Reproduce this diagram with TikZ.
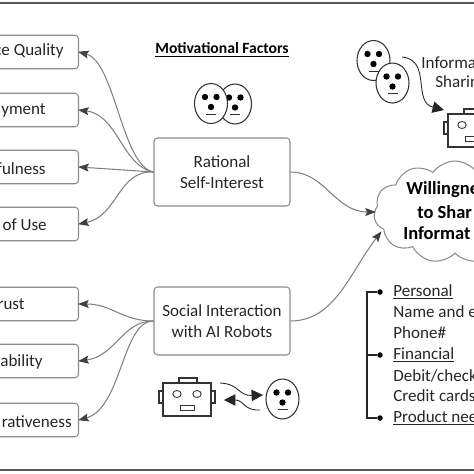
\documentclass[tikz,border=0pt]{standalone}
\usepackage{fontspec}
\setmainfont{Carlito}
\usepackage{xcolor}
\usetikzlibrary{arrows.meta, shapes.geometric, shapes.symbols}

\colorlet{inkgray}{black!85}

\tikzset{
  face/.pic = {
    \node[ellipse, draw=black!80, fill=white, line width=0.6pt, inner sep=0pt,
          minimum width=0.66cm, minimum height=0.8cm] (-body) at (0,0) {};
    \fill[black] (-6,-6.5) circle (3.2);
    \fill[black] (5.5,-6.5) circle (3.2);
    \fill[black] (0,3.5) circle (3.2);
    \draw[black!80, line width=0.5pt] (-5,10.5) -- (5,10.5);
  },
  robot/.pic = {
    \draw[black!80, line width=0.6pt] (-8,-16.5) -- (-8,-21.5) -- (10,-21.5) -- (10,-16.5);
    \draw[black!80, line width=0.6pt] (-24,-8.5) rectangle (-28,3.5);
    \draw[black!80, line width=0.6pt] (24,-8.5) rectangle (28,3.5);
    \node[rectangle, draw=black!80, line width=0.7pt, inner sep=0pt,
          minimum width=0.96cm, minimum height=0.66cm] (-body) at (0,0) {};
    \draw[black!80, line width=0.5pt] (-10,-5.5) circle [x radius=4.2, y radius=3.5];
    \draw[black!80, line width=0.5pt] (10,-5.5) circle [x radius=4.2, y radius=3.5];
    \draw[black!80, line width=0.5pt] (-7,5.5) rectangle (7,10.5);
  }
}

\begin{document}
\begin{tikzpicture}[
  x=0.02cm, y=-0.02cm,
  every node/.style = {font=\fontsize{9.7}{12}\selectfont, text=inkgray},
  factor/.style = {
    rectangle, rounded corners=2pt, anchor=east,
    draw=black!45, line width=0.6pt,
    minimum width=2.8cm, minimum height=0.67cm
  },
  motive/.style = {
    rectangle, rounded corners=2pt,
    draw=black!45, line width=0.6pt,
    minimum width=2.72cm, minimum height=1.36cm,
    align=center
  },
  label/.style = {anchor=east, inner sep=0pt},
  listitem/.style = {anchor=west, inner sep=0pt},
  cloudtext/.style = {anchor=west, inner sep=0pt, font=\fontsize{10.5}{12}\selectfont\bfseries, text=black},
  arr/.style = {-{Stealth[length=6pt, width=4.5pt, inset=1pt, color=black!75]}, black!50, line width=0.6pt, shorten >=-0.5pt},
  flow/.style = {-{Stealth[length=6.5pt, width=6.5pt, inset=0pt]}, black!85, line width=0.5pt},
  bullet/.style = {circle, fill=black, inner sep=0pt, minimum size=0.11cm}
]
\useasboundingbox (0,0) rectangle (474,474);

% Frame lines
\draw[black!65, line width=0.7pt] (0,3) -- (474,3);
\draw[black!65, line width=0.7pt] (0,470) -- (474,470);

% Factors
\node[factor] (quality) at (79,52) {};
\node[label] (qualitytext) at (64,51) {ce Quality};
\node[factor] (enjoyment) at (79,110) {};
\node[label] (enjoymenttext) at (46,110) {yment};
\node[factor] (usefulness) at (79,167) {};
\node[label] (usefulnesstext) at (46,169) {fulness};
\node[factor] (ease) at (79,224) {};
\node[label] (easetext) at (47,225) {of Use};
\node[factor] (trust) at (79,304) {};
\node[label] (trusttext) at (25,304) {rust};
\node[factor] (ability) at (79,361) {};
\node[label] (abilitytext) at (43,362) {ability};
\node[factor] (integrate) at (79,420) {};
\node[label] (integratetext) at (72,422) {rativeness};

% Motives
\node[motive] (rational) at (222,172) {Rational\\Self-Interest};
\node[motive] (social) at (222,321) {Social Interaction\\with AI Robots};
\node[inner sep=0pt, font=\fontsize{8.9}{12}\selectfont\bfseries, text=black] (title) at (222,50) {\underline{Motivational Factors}};

% Faces and robots
\pic (facea) at (235,104) {face};
\pic (faceb) at (211,103.5) {face};
\pic (facec) at (373.5,60.5) {face};
\pic (faced) at (392.5,83) {face};
\pic (facee) at (282.5,399) {face};
\pic (robota) at (187,399.5) {robot};
\pic (robotb) at (472,130.5) {robot};

% Cloud
\node[cloud, draw=black!45, fill=white, line width=0.6pt, cloud puffs=11, cloud puff arc=110, aspect=1.5,
      inner sep=0pt, minimum width=3.25cm, minimum height=2.04cm] (willing) at (455,212) {};
\node[cloudtext] (willingone) at (406,190) {Willingne};
\node[cloudtext] (willingtwo) at (417,212) {to Shar};
\node[cloudtext] (willingthree) at (403,233) {Informat};

% Sharing label
\node[anchor=west, inner sep=0pt] (sharingone) at (421,63) {Informat};
\node[anchor=west, inner sep=0pt] (sharingtwo) at (435,82) {Sharin};

% Information list
\node[bullet] (pone) at (380,292) {};
\node[bullet] (ptwo) at (380,355) {};
\node[bullet] (pthree) at (380,418) {};
\node[listitem] (personal) at (393,292) {\underline{Personal}};
\node[listitem] (name) at (393,312) {Name and e};
\node[listitem] (phone) at (393,333) {Phone\#};
\node[listitem] (financial) at (393,355) {\underline{Financial}};
\node[listitem] (debit) at (393,376) {Debit/check};
\node[listitem] (credit) at (393,396) {Credit cards};
\node[listitem] (product) at (393,418) {\underline{Product nee}};
\draw[black!85, line width=0.6pt] (pone.west) -- (367,292) -- (367,418) -- (pthree.west);
\draw[black!85, line width=0.6pt] (367,355) -- (ptwo.west);

% Free ends
\coordinate (cloudleft) at (375,212);
\coordinate (cloudlow) at (381,232);
\coordinate (robotout) at (220,383);
\coordinate (robotin) at (224,400);
\coordinate (faceout) at (260,410);
\coordinate (facein) at (263,395);
\coordinate (shareout) at (402,57);
\coordinate (sharein) at (444,110);

% Arrows
\draw[arr] (rational.west) .. controls (122,166) and (115,62) .. (quality.east);
\draw[arr] (rational.west) .. controls (122,166) and (118,115) .. (enjoyment.east);
\draw[arr] (rational.west) -- (usefulness.east);
\draw[arr] (rational.west) .. controls (118,170) and (118,216) .. (ease.east);
\draw[arr] (social.west) .. controls (122,321) and (112,304) .. (trust.east);
\draw[arr] (social.west) .. controls (122,321) and (116,356) .. (ability.east);
\draw[arr] (social.west) .. controls (122,321) and (122,408) .. (integrate.east);
\draw[arr] (rational.east) .. controls (325,172) and (335,212) .. (cloudleft);
\draw[arr] (social.east) .. controls (335,321) and (350,272) .. (cloudlow);
\draw[flow] (shareout) .. controls (432,60) and (412,102) .. (sharein);
\draw[flow] (robotout) .. controls (240,384) and (238,396) .. (facein);
\draw[flow] (faceout) .. controls (244,411) and (244,400) .. (robotin);

\end{tikzpicture}
\end{document}
